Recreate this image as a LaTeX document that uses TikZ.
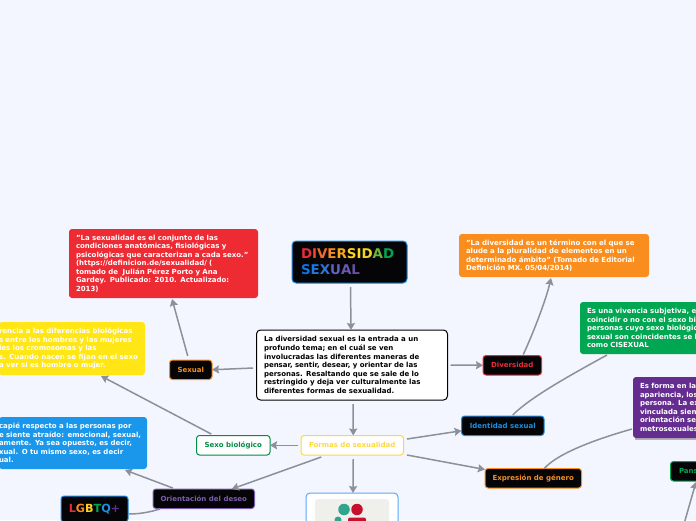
\documentclass[tikz,border=0pt]{standalone}
\usepackage{fontspec}
\setmainfont{DejaVu Sans}[BoldFont={DejaVu Sans Bold}]
\usetikzlibrary{arrows.meta}
\definecolor{pagebg}{HTML}{F3F6FF}
\definecolor{linkgray}{HTML}{8D8F99}
\definecolor{cardred}{HTML}{EE2A33}
\definecolor{cardyellow}{HTML}{FFE614}
\definecolor{cardblue}{HTML}{1A96EA}
\definecolor{cardorange}{HTML}{F98E1E}
\definecolor{cardgreen}{HTML}{00A651}
\definecolor{cardpurple}{HTML}{662D91}
\definecolor{tagyellow}{HTML}{FFD83A}
\definecolor{tagviolet}{HTML}{7C5DB0}
\definecolor{tagblue}{HTML}{1B8FE0}
\definecolor{tagdark}{HTML}{050508}
\definecolor{iconteal}{HTML}{2FA58E}
\definecolor{iconred}{HTML}{C8102E}
\definecolor{iconback}{HTML}{EFEFEB}
\definecolor{frameblue}{HTML}{5AA7F5}
\begin{document}
\begin{tikzpicture}[x=1pt,y=-1pt,inner sep=0pt,outer sep=0pt,
>={Stealth[length=7pt,width=8pt,inset=1pt]},
link/.style={draw=linkgray,line width=1.5pt},
card/.style={anchor=north west,rounded corners=3pt,align=left,text=white,inner xsep=7pt,
  font=\fontsize{7}{8.55}\selectfont\bfseries},
tag/.style={anchor=north west,draw,line width=1pt,fill=tagdark,rounded corners=3pt,minimum height=19.5pt,
  font=\fontsize{7}{8.55}\selectfont\bfseries},
whitetag/.style={tag,fill=white}]
\useasboundingbox (0,0) rectangle (696,520);
\clip (0,0) rectangle (696,520);
\fill[pagebg] (0,0) rectangle (696,520);
% text cards
\node[card,fill=cardred,text width=175pt,minimum height=69pt] (defsexual) at (69,229)
{"La sexualidad es el conjunto de las\\condiciones anatómicas, fisiológicas y\\psicológicas que caracterizan a cada sexo."\\(https://definicion.de/sexualidad/ (\\tomado de\ \ Julián Pérez Porto y Ana\\Gardey. Publicado: 2010. Actualizado:\\2013)};
\node[card,fill=cardyellow,text width=146pt,inner xsep=0pt,minimum height=53pt,anchor=north east] (defbio) at (145,322)
{rencia a las diferencias biológicas\\s entre los hombres y las mujeres\\les los cromosomas y las\\s. Cuando nacen se fijan en el sexo\\a ver si es hombre o mujer.};
\node[card,fill=cardblue,text width=148pt,inner xsep=0pt,minimum height=52pt,anchor=north east] (defdeseo) at (147,417)
{capié respecto a las personas por\\e siente atraído: emocional, sexual,\\amente. Ya sea opuesto, es decir,\\xual. O tu mismo sexo, es decir\\ual.};
\node[card,fill=cardorange,text width=176pt,minimum height=43pt] (defdiversidad) at (459,234)
{"La diversidad es un término con el que se\\alude a la pluralidad de elementos en un\\determinado ámbito" (Tomado de Editorial\\Definición MX. 05/04/2014)};
\node[card,fill=cardgreen,text width=200pt,minimum height=52pt] (defidentidad) at (580,302)
{Es una vivencia subjetiva, e\\coincidir o no con el sexo bi\\personas cuyo sexo biológic\\sexual son coincidentes se l\\como CISEXUAL};
\fill[black!30] (635,379) rectangle (700,440);
\node[card,fill=cardpurple,text width=200pt,minimum height=61pt] (defexpresion) at (633,377)
{Es forma en la\\apariencia, los\\persona. La ex\\vinculada sien\\orientación se\\metrosexuales};
% centre of the map
\node[anchor=north west,draw=tagblue,line width=1pt,fill=tagdark,rounded corners=4pt,minimum height=42pt,
  align=left,text width=97pt,inner xsep=9pt,font=\fontsize{13.4}{16}\selectfont\bfseries] (title) at (292,241)
{\textcolor[HTML]{E92C38}{D}\textcolor[HTML]{EC4A30}{I}\textcolor[HTML]{F06A28}{V}\textcolor[HTML]{F58A20}{E}\textcolor[HTML]{F9A81E}{R}\textcolor[HTML]{FFD21F}{S}\textcolor[HTML]{FFDE1F}{I}\textcolor[HTML]{F0D420}{D}\textcolor[HTML]{6CB53C}{A}\textcolor[HTML]{00A651}{D}\\
\textcolor[HTML]{0F74E6}{S}\textcolor[HTML]{1A78E0}{E}\textcolor[HTML]{2F74D8}{X}\textcolor[HTML]{5F62BE}{U}\textcolor[HTML]{6A58AE}{A}\textcolor[HTML]{6B4E9E}{L}};
\node[anchor=north west,draw=black,line width=1pt,fill=white,rounded corners=4pt,minimum height=70pt,align=left,
  text width=176pt,inner xsep=7.5pt,font=\fontsize{7}{8.55}\selectfont\bfseries] (central) at (256.5,330)
{La diversidad sexual es la entrada a un\\profundo tema; en el cuál se ven\\involucradas las diferentes maneras de\\pensar, sentir, desear, y orientar de las\\personas. Resaltando que se sale de lo\\restringido y deja ver culturalmente las\\diferentes formas de sexualidad.};
% short tags
\node[tag,draw=cardorange,text=cardorange,minimum width=42.5pt] (sexual) at (169.5,360) {Sexual};
\node[tag,draw=cardred,text=cardred,minimum width=58.5pt] (diversidad) at (483,355.5) {Diversidad};
\node[tag,draw=tagblue,text=tagblue,minimum width=82.5pt] (identidad) at (461.5,416) {Identidad sexual};
\node[tag,draw=cardorange,text=cardorange,minimum width=96.5pt] (expresion) at (485,468.5) {Expresión de género};
\node[tag,draw=cardgreen,text=cardgreen,text width=43pt,inner xsep=8.5pt,align=left] (pansexual) at (670.5,461.5) {Pansexual};
\node[whitetag,draw=cardgreen!85!black,text=cardgreen!85!black,minimum width=73.5pt] (biologico) at (196.5,435.5) {Sexo biológico};
\node[whitetag,draw=tagyellow,text=tagyellow,minimum width=102.5pt] (formas) at (301,435.5) {Formas de sexualidad};
\node[tag,draw=tagviolet,text=tagviolet,minimum width=101.5pt] (deseo) at (153,489) {Orientación del deseo};
\node[tag,draw=tagblue,minimum width=67pt,minimum height=26pt,font=\fontsize{11.2}{14}\selectfont\bfseries] (lgbtq) at (61,496)
{\textcolor[HTML]{E92C38}{L}\textcolor[HTML]{F58A20}{G}\textcolor[HTML]{FFD21F}{B}\textcolor[HTML]{00A651}{T}\textcolor[HTML]{1B8FE0}{Q}\textcolor[HTML]{662D91}{+}};
% picture card at the bottom
\node[anchor=north west,draw=frameblue,line width=1pt,fill=white,rounded corners=4pt,minimum width=92pt,minimum height=60pt] (picframe) at (306,493) {};
\node[anchor=north west,fill=iconback,rounded corners=3pt,minimum width=74pt,minimum height=50pt] (picback) at (315,499) {};
\node[circle,fill=iconteal,minimum size=11.5pt] (headone) at (344,509.5) {};
\node[circle,fill=iconred,minimum size=11.5pt] (headtwo) at (357,509.5) {};
\node[circle,fill=iconteal,minimum size=7pt] (handone) at (338,520) {};
\node[anchor=north,fill=iconred,rounded corners=2pt,minimum width=18pt,minimum height=8pt] (bodytwo) at (357,517.5) {};
% connectors
\coordinate (offpage) at (684,524);
\draw[link,->] ([xshift=1pt,yshift=-4pt]title.south) -- ([xshift=-1pt]central.north);
\draw[link,->] ([xshift=-3.5pt,yshift=-3pt]central.west) -- (sexual.east);
\draw[link,->] ([xshift=-3pt,yshift=4pt]sexual.north) -- ([xshift=8.5pt,yshift=-1pt]defsexual.south);
\draw[link,->] ([xshift=3pt]central.east) -- (diversidad.west);
\draw[link,->] ([xshift=11pt,yshift=1pt]diversidad.north) .. controls ([xshift=20pt,yshift=20pt]diversidad.north) and ([xshift=-8pt,yshift=-23pt]defdiversidad.south) .. ([xshift=-3pt,yshift=-1pt]defdiversidad.south);
\draw[link] ([xshift=10pt,yshift=1pt]identidad.north) .. controls ([xshift=27pt,yshift=18pt]identidad.north) and ([xshift=-15pt,yshift=-24pt]defidentidad.south west) .. ([xshift=27pt,yshift=-1pt]defidentidad.south west);
\draw[link,->] ([xshift=3.5pt,yshift=-3.5pt]formas.north east) -- ([yshift=-5pt]identidad.west);
\draw[link,->] ([xshift=3.5pt]formas.south east) -- ([yshift=-1pt]expresion.north west);
\draw[link] ([xshift=11pt]expresion.north) .. controls ([xshift=25pt,yshift=16pt]expresion.north) and ([xshift=-33pt]defexpresion.south west) .. ([xshift=-1pt,yshift=9pt]defexpresion.south west);
\draw[link,->] ([xshift=1pt,yshift=-4pt]central.south) -- ([xshift=1pt]formas.north);
\draw[link,->] ([xshift=-3pt]formas.west) -- (biologico.east);
\draw[link,->] ([xshift=-22pt,yshift=1.5pt]biologico.north) -- ([xshift=29pt,yshift=-1pt]defbio.south);
\draw[link,->] ([xshift=-31pt,yshift=-2pt]formas.south) -- ([xshift=28pt]deseo.north);
\draw[link,->] ([xshift=-31pt,yshift=1pt]deseo.north) -- ([xshift=52pt,yshift=-1pt]defdeseo.south);
\draw[link] ([xshift=7pt,yshift=-0.5pt]deseo.south west) .. controls ([xshift=-3pt,yshift=-3.5pt]deseo.south west) and ([xshift=12pt,yshift=8pt]lgbtq.south east) .. ([xshift=1pt,yshift=8pt]lgbtq.south east);
\draw[link,->] ([xshift=1pt,yshift=-4pt]formas.south) -- ([xshift=1pt]picframe.north);
\draw[link,->] (offpage) -- ([xshift=-4.5pt,yshift=-1pt]pansexual.south);
\end{tikzpicture}
\end{document}
